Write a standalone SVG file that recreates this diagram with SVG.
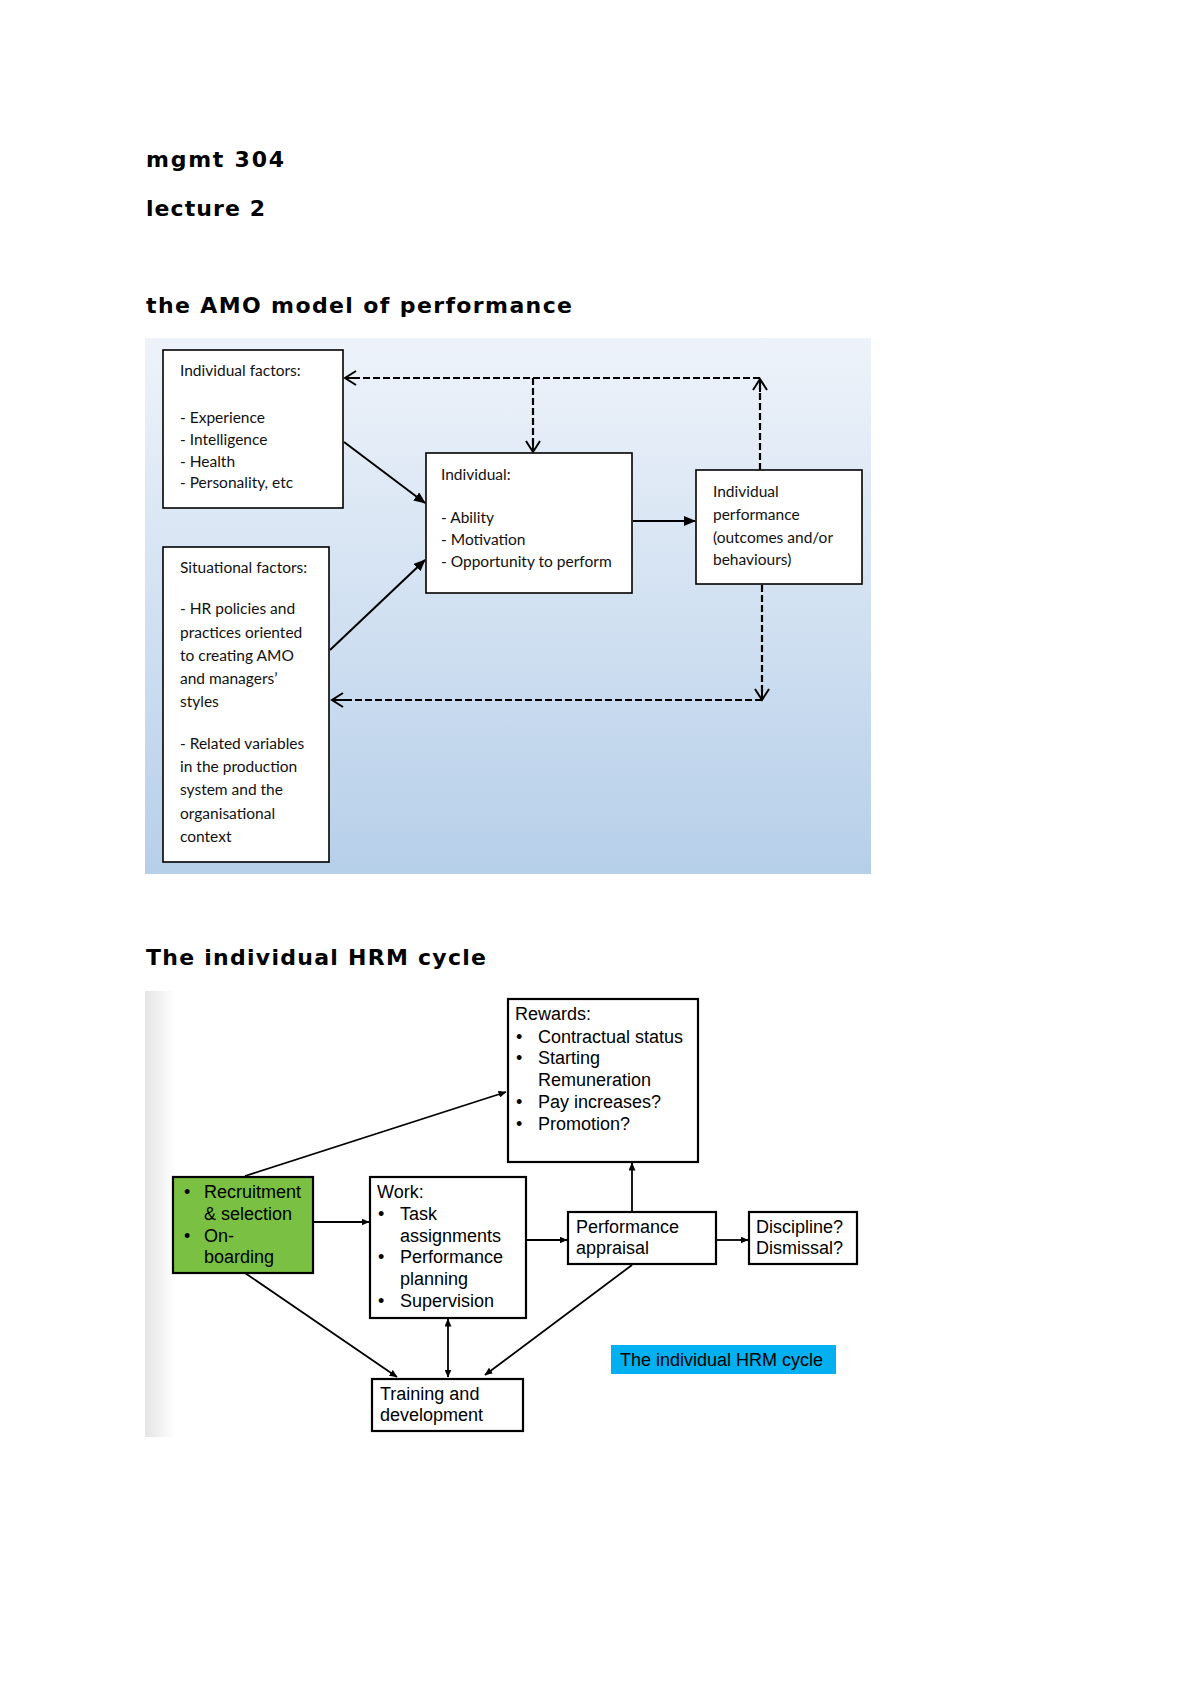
<svg xmlns="http://www.w3.org/2000/svg" width="1200" height="1696" viewBox="0 0 1200 1696">
<defs>
<style>
.title{font-family:"DejaVu Sans",Verdana,sans-serif;font-weight:bold;font-size:22px;fill:#000}
.amo{font-family:Lato,"Liberation Sans",sans-serif;font-size:15.5px;fill:#111}
.hrm{font-family:"Liberation Sans",Arial,sans-serif;font-size:18px;fill:#000}
.abox{fill:#fff;stroke:#000;stroke-width:1.6}
.hbox{fill:#fff;stroke:#000;stroke-width:2.2}
.sol{stroke:#000;stroke-width:2;fill:none}
.dash{stroke:#000;stroke-width:2.2;fill:none;stroke-dasharray:7 3}
.hl{stroke:#000;stroke-width:1.8;fill:none}
</style>
<linearGradient id="amobg" x1="0" y1="0" x2="0" y2="1">
<stop offset="0" stop-color="#eef3fa"/>
<stop offset="1" stop-color="#b6cfe9"/>
</linearGradient>
<linearGradient id="hrmbg" x1="0" y1="0" x2="1" y2="0">
<stop offset="0" stop-color="#e4e4e4"/>
<stop offset="1" stop-color="#ffffff"/>
</linearGradient>
<marker id="af" markerUnits="userSpaceOnUse" markerWidth="12" markerHeight="10" refX="11" refY="5" orient="auto">
<path d="M0,0 L12,5 L0,10 z" fill="#000"/>
</marker>
<marker id="ao" markerUnits="userSpaceOnUse" markerWidth="14" markerHeight="16" refX="12" refY="8" orient="auto">
<path d="M1,1 L12,8 L1,15" fill="none" stroke="#000" stroke-width="2"/>
</marker>
<marker id="hf" markerUnits="userSpaceOnUse" markerWidth="8" markerHeight="7" refX="7.5" refY="3.5" orient="auto">
<path d="M0,0 L8,3.5 L0,7 z" fill="#000"/>
</marker>
<marker id="hfs" markerUnits="userSpaceOnUse" markerWidth="8" markerHeight="7" refX="0.5" refY="3.5" orient="auto">
<path d="M8,0 L0,3.5 L8,7 z" fill="#000"/>
</marker>
</defs>
<rect x="0" y="0" width="1200" height="1696" fill="#fff"/>

<g id="headings">
<text class="title" x="146" y="167" textLength="138" lengthAdjust="spacing">mgmt 304</text>
<text class="title" x="146" y="216" textLength="119" lengthAdjust="spacing">lecture 2</text>
<text class="title" x="146" y="313" textLength="426" lengthAdjust="spacing">the AMO model of performance</text>
<text class="title" x="146" y="965" textLength="340" lengthAdjust="spacing">The individual HRM cycle</text>
</g>

<rect id="amo-background" x="145" y="338" width="726" height="536" fill="url(#amobg)"/>

<g id="amo-connectors">
<line class="sol" x1="344" y1="442" x2="425" y2="503" marker-end="url(#af)"/>
<line class="sol" x1="330" y1="650" x2="425" y2="560" marker-end="url(#af)"/>
<line class="sol" x1="633" y1="521" x2="695" y2="521" marker-end="url(#af)"/>
<polyline class="dash" points="760,470 760,380"/>
<line x1="760" y1="392" x2="760" y2="379" stroke="#000" stroke-width="2" marker-end="url(#ao)"/>
<line class="dash" x1="760" y1="378" x2="346" y2="378"/>
<line x1="360" y1="378" x2="345" y2="378" stroke="#000" stroke-width="2" marker-end="url(#ao)"/>
<line class="dash" x1="533" y1="378" x2="533" y2="450"/>
<line x1="533" y1="440" x2="533" y2="452" stroke="#000" stroke-width="2" marker-end="url(#ao)"/>
<line class="dash" x1="762" y1="585" x2="762" y2="699"/>
<line x1="762" y1="688" x2="762" y2="700" stroke="#000" stroke-width="2" marker-end="url(#ao)"/>
<line class="dash" x1="762" y1="700" x2="334" y2="700"/>
<line x1="346" y1="700" x2="332" y2="700" stroke="#000" stroke-width="2" marker-end="url(#ao)"/>
</g>

<g id="individual-factors">
<rect class="abox" x="163" y="350" width="180" height="158"/>
<text class="amo" x="180" y="376">Individual factors:</text>
<text class="amo" x="180" y="423">- Experience</text>
<text class="amo" x="180" y="445">- Intelligence</text>
<text class="amo" x="180" y="466.5">- Health</text>
<text class="amo" x="180" y="487.5">- Personality, etc</text>
</g>

<g id="situational-factors">
<rect class="abox" x="163" y="547" width="166" height="315"/>
<text class="amo" x="180" y="573">Situational factors:</text>
<text class="amo" x="180" y="614">- HR policies and</text>
<text class="amo" x="180" y="637.5">practices oriented</text>
<text class="amo" x="180" y="661">to creating AMO</text>
<text class="amo" x="180" y="684">and managers’</text>
<text class="amo" x="180" y="707">styles</text>
<text class="amo" x="180" y="748.5">- Related variables</text>
<text class="amo" x="180" y="772">in the production</text>
<text class="amo" x="180" y="795">system and the</text>
<text class="amo" x="180" y="818.5">organisational</text>
<text class="amo" x="180" y="841.5">context</text>
</g>

<g id="individual">
<rect class="abox" x="426" y="453" width="206" height="140"/>
<text class="amo" x="441" y="480">Individual:</text>
<text class="amo" x="441" y="522.5">- Ability</text>
<text class="amo" x="441" y="544.5">- Motivation</text>
<text class="amo" x="441" y="566.5">- Opportunity to perform</text>
</g>

<g id="individual-performance">
<rect class="abox" x="696" y="470" width="166" height="114"/>
<text class="amo" x="713" y="497">Individual</text>
<text class="amo" x="713" y="520">performance</text>
<text class="amo" x="713" y="543">(outcomes and/or</text>
<text class="amo" x="713" y="565">behaviours)</text>
</g>

<g id="hrm-background">
<rect x="145" y="991" width="30" height="446" fill="url(#hrmbg)"/>
</g>

<g id="hrm-connectors">
<line class="hl" x1="245" y1="1176" x2="506" y2="1092" marker-end="url(#hf)"/>
<line class="hl" x1="314" y1="1222" x2="369" y2="1222" marker-end="url(#hf)"/>
<line class="hl" x1="527" y1="1240" x2="567" y2="1240" marker-end="url(#hf)"/>
<line class="hl" x1="632" y1="1211" x2="632" y2="1163" marker-end="url(#hf)"/>
<line class="hl" x1="716" y1="1240" x2="748" y2="1240" marker-end="url(#hf)"/>
<line class="hl" x1="448" y1="1319" x2="448" y2="1377" marker-start="url(#hfs)" marker-end="url(#hf)"/>
<line class="hl" x1="245" y1="1273" x2="397" y2="1377" marker-end="url(#hf)"/>
<line class="hl" x1="632" y1="1265" x2="485" y2="1375" marker-end="url(#hf)"/>
</g>

<g id="recruitment">
<rect x="173" y="1177" width="140" height="96" fill="#7ac143" stroke="#000" stroke-width="2.2"/>
<text class="hrm" x="184" y="1198">•</text>
<text class="hrm" x="204" y="1198">Recruitment</text>
<text class="hrm" x="204" y="1220">&amp; selection</text>
<text class="hrm" x="184" y="1241.5">•</text>
<text class="hrm" x="204" y="1241.5">On-</text>
<text class="hrm" x="204" y="1263">boarding</text>
</g>

<g id="rewards">
<rect class="hbox" x="508" y="999" width="190" height="163"/>
<text class="hrm" x="515" y="1020">Rewards:</text>
<text class="hrm" x="516" y="1042.5">•</text>
<text class="hrm" x="538" y="1042.5">Contractual status</text>
<text class="hrm" x="516" y="1064">•</text>
<text class="hrm" x="538" y="1064">Starting</text>
<text class="hrm" x="538" y="1086">Remuneration</text>
<text class="hrm" x="516" y="1108">•</text>
<text class="hrm" x="538" y="1108">Pay increases?</text>
<text class="hrm" x="516" y="1130">•</text>
<text class="hrm" x="538" y="1130">Promotion?</text>
</g>

<g id="work">
<rect class="hbox" x="370" y="1177" width="156" height="141"/>
<text class="hrm" x="377" y="1198">Work:</text>
<text class="hrm" x="378" y="1220">•</text>
<text class="hrm" x="400" y="1220">Task</text>
<text class="hrm" x="400" y="1241.5">assignments</text>
<text class="hrm" x="378" y="1263">•</text>
<text class="hrm" x="400" y="1263">Performance</text>
<text class="hrm" x="400" y="1285">planning</text>
<text class="hrm" x="378" y="1306.5">•</text>
<text class="hrm" x="400" y="1306.5">Supervision</text>
</g>

<g id="performance-appraisal">
<rect class="hbox" x="568" y="1212" width="148" height="52"/>
<text class="hrm" x="576" y="1233">Performance</text>
<text class="hrm" x="576" y="1254">appraisal</text>
</g>

<g id="discipline">
<rect class="hbox" x="749" y="1212" width="108" height="52"/>
<text class="hrm" x="756" y="1233">Discipline?</text>
<text class="hrm" x="756" y="1254">Dismissal?</text>
</g>

<g id="training">
<rect class="hbox" x="372" y="1379" width="151" height="52"/>
<text class="hrm" x="380" y="1400">Training and</text>
<text class="hrm" x="380" y="1421">development</text>
</g>

<g id="cycle-label">
<rect x="611" y="1345" width="225" height="29" fill="#00b0f0"/>
<text class="hrm" x="620" y="1366">The individual HRM cycle</text>
</g>
</svg>
